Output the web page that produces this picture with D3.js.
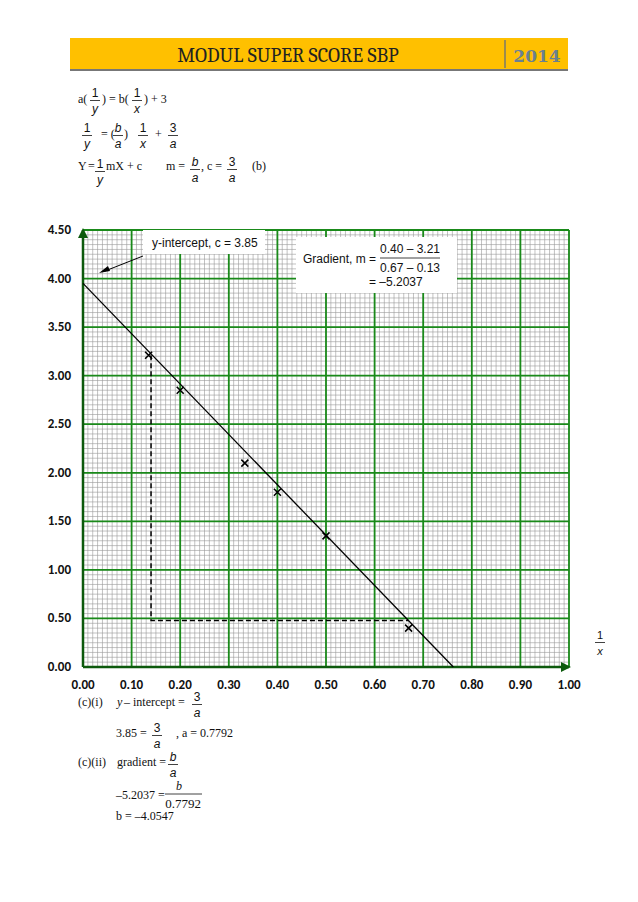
<!DOCTYPE html>
<html><head><meta charset="utf-8">
<script src="https://cdn.jsdelivr.net/npm/d3@7"></script>
<style>body{margin:0;background:#fff}svg{display:block}</style>
</head><body>
<svg id="page" width="638" height="902"></svg>
<script>
// data
var pointX = [0.135, 0.20, 0.333, 0.40, 0.50, 0.67];
var pointY = [3.21, 2.85, 2.10, 1.80, 1.35, 0.40];
var lineX = [0, 0.762];
var lineY = [3.95, 0];
var dashX = [0.14, 0.14, 0.67];
var dashY = [3.21, 0.48, 0.48];
var xTicks = d3.range(0, 1.001, 0.1);
var yTicks = d3.range(0, 4.501, 0.5);

var svg = d3.select("#page");
var serif = "Liberation Serif", sans = "Liberation Sans", cal = "Carlito, Liberation Sans";

// header bar
svg.append("rect").attr("x",70).attr("y",38).attr("width",498).attr("height",31).attr("fill","#ffc000");
svg.append("line").attr("x1",70).attr("x2",568).attr("y1",70).attr("y2",70).attr("stroke","#777").attr("stroke-width",2);
svg.append("line").attr("x1",505).attr("x2",505).attr("y1",40).attr("y2",68).attr("stroke","#7a7a6a").attr("stroke-width",1.5);
svg.append("text").attr("x",288).attr("y",62).attr("text-anchor","middle").attr("font-family","Caladea, Liberation Serif").attr("font-size",20).attr("fill","#222").text("MODUL SUPER SCORE SBP");
svg.append("text").attr("x",537).attr("y",62).attr("text-anchor","middle").attr("font-family","DejaVu Serif").attr("font-weight","bold").attr("font-size",17).attr("fill","#6b8090").text("2014");

function txt(x,y,s,o){o=o||{};svg.append("text").attr("x",x).attr("y",y).attr("font-family",o.f||serif).attr("font-style",o.i?"italic":null).attr("font-weight",o.b?"bold":null).attr("font-size",o.s||12).attr("text-anchor",o.a||"start").attr("fill","#111").text(s);}
function frac(x,y,n,d,w,o){o=o||{};txt(x,y-6,n,Object.assign({a:"middle",f:sans},o));svg.append("line").attr("x1",x-w/2).attr("x2",x+w/2).attr("y1",y-2.5).attr("y2",y-2.5).attr("stroke","#111").attr("stroke-width",0.8);if(d)txt(x,y+10,d,Object.assign({a:"middle",f:sans,i:true},o));}

// equations on top
txt(78,103,"a(");frac(95,103,"1","y",10);txt(102,103,") = b(");frac(137,103,"1","x",10);txt(144,103,") + 3");
frac(87,138,"1","y",10);txt(101,138,"=  (");frac(118,138,"b","a",10,{i:true});txt(124,138,")");frac(143,138,"1","x",10);txt(155,138,"+");frac(173,138,"3","a",10);
txt(78,170,"Y");txt(88,170,"=");frac(100,174,"1","y",10);txt(106,170,"mX    + c");
txt(166,170,"m =");frac(195,172,"b","a",10,{i:true});txt(201,170,", c =");frac(232,172,"3","a",10);txt(252,170,"(b)");

// chart
var x = d3.scaleLinear().domain([0,1]).range([83,569]);
var y = d3.scaleLinear().domain([0,4.5]).range([667,230]);
var g = svg.append("g");
d3.range(0,1.0001,0.01).forEach(function(v){g.append("line").attr("x1",x(v)).attr("x2",x(v)).attr("y1",y(0)).attr("y2",y(4.5)).attr("stroke","#999").attr("stroke-width",0.6);});
d3.range(0,4.5001,0.05).forEach(function(v){g.append("line").attr("y1",y(v)).attr("y2",y(v)).attr("x1",x(0)).attr("x2",x(1)).attr("stroke","#999").attr("stroke-width",0.6);});
xTicks.forEach(function(v){g.append("line").attr("x1",x(v)).attr("x2",x(v)).attr("y1",y(0)).attr("y2",y(4.5)).attr("stroke","#1a8a1a").attr("stroke-width",1.8);});
yTicks.forEach(function(v){g.append("line").attr("y1",y(v)).attr("y2",y(v)).attr("x1",x(0)).attr("x2",x(1)).attr("stroke","#1a8a1a").attr("stroke-width",1.8);});
// axes with arrows
g.append("line").attr("x1",x(0)).attr("x2",x(0)).attr("y1",y(0)).attr("y2",y(4.5)).attr("stroke","#0d5a0d").attr("stroke-width",2.5);
g.append("line").attr("x1",x(0)).attr("x2",x(1)).attr("y1",y(0)).attr("y2",y(0)).attr("stroke","#0d5a0d").attr("stroke-width",2.5);
g.append("path").attr("d","M"+x(0)+","+(y(4.5)-2)+" l-5,10 h10z").attr("fill","#0d5a0d");
g.append("path").attr("d","M"+(x(1)+2)+","+y(0)+" l-10,-5 v10z").attr("fill","#0d5a0d");
xTicks.forEach(function(v){txt(x(v),y(0)+22,v.toFixed(2),{a:"middle",f:cal,s:13,b:true});});
yTicks.forEach(function(v){txt(x(0)-12,y(v)+4,v.toFixed(2),{a:"end",f:cal,s:13,b:true});});

// 1/x axis label
frac(600,645,"1","x",10,{s:11});

// best-fit line, construction and points
g.append("line").attr("x1",x(lineX[0])).attr("y1",y(lineY[0])).attr("x2",x(lineX[1])).attr("y2",y(lineY[1])).attr("stroke","#000").attr("stroke-width",1.3);
g.append("path").attr("d",d3.line().x(function(d,i){return x(dashX[i]);}).y(function(d){return y(d);})(dashY)).attr("fill","none").attr("stroke","#000").attr("stroke-width",1.5).attr("stroke-dasharray","5,3");
pointX.forEach(function(px,i){var cx=x(px),cy=y(pointY[i]);g.append("path").attr("d","M"+(cx-3.5)+","+(cy-3.5)+"L"+(cx+3.5)+","+(cy+3.5)+"M"+(cx+3.5)+","+(cy-3.5)+"L"+(cx-3.5)+","+(cy+3.5)).attr("stroke","#000").attr("stroke-width",1.6);});

// annotation boxes
g.append("rect").attr("x",143).attr("y",230).attr("width",122).attr("height",24).attr("fill","#fff");
txt(152,247,"y-intercept, c = 3.85",{f:sans,s:12});
g.append("line").attr("x1",143).attr("y1",256).attr("x2",105).attr("y2",271).attr("stroke","#000").attr("stroke-width",1);
g.append("path").attr("d","M99,273 l9,-7 l2,5z").attr("fill","#000");
g.append("rect").attr("x",296).attr("y",237).attr("width",161).attr("height",56).attr("fill","#fff");
txt(303,263,"Gradient, m =",{f:sans,s:12});
txt(410,253,"0.40 \u2013 3.21",{f:sans,s:12,a:"middle"});
g.append("line").attr("x1",380).attr("x2",440).attr("y1",258).attr("y2",258).attr("stroke","#111").attr("stroke-width",0.8);
txt(410,272,"0.67 \u2013 0.13",{f:sans,s:12,a:"middle"});
txt(369,286,"= \u20135.2037",{f:sans,s:12});

// working below
txt(78,706,"(c)(i)");txt(117,706,"y",{i:true});txt(124,706,"\u2013 intercept  =");frac(197,707,"3","a",10);
txt(116,737,"3.85 =");frac(157,738,"3","a",10);txt(176,737,",    a = 0.7792");
txt(78,766,"(c)(ii)");txt(117,766,"gradient =");frac(173,767,"b","a",10,{i:true});
txt(116,799,"\u20135.2037 =");txt(179,790,"b",{a:"middle",i:true});
svg.append("line").attr("x1",165).attr("x2",202).attr("y1",794).attr("y2",794).attr("stroke","#111").attr("stroke-width",0.8);
txt(183,808,"0.7792",{a:"middle",s:13});
txt(116,820,"b = \u20134.0547");
</script>
</body></html>
